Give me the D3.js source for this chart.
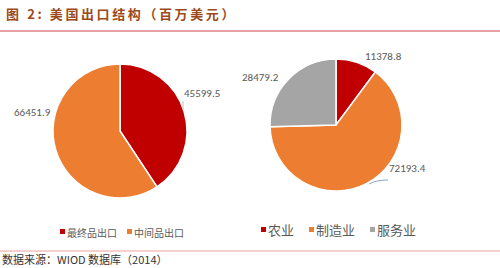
<!DOCTYPE html>
<html><head><meta charset="utf-8">
<script src="https://cdn.jsdelivr.net/npm/d3@7"></script>
<style>
body{margin:0;background:#fff;}
svg{display:block;font-family:"Noto Sans CJK SC","Noto Sans",sans-serif;}
</style></head>
<body><svg id="c" width="500" height="268"></svg>
<script>
const titleText = "图 2: 美国出口结构（百万美元）";
const sourceText = "数据来源：WIOD 数据库（2014）";
const leftCategories = ["最终品出口", "中间品出口"];
const leftValues = [45599.5, 66451.9];
const leftColors = ["#C00000", "#ED7D31"];
const rightCategories = ["农业", "制造业", "服务业"];
const rightValues = [11378.8, 72193.4, 28479.2];
const rightColors = ["#C00000", "#ED7D31", "#A5A5A5"];

const svg = d3.select("#c");
svg.append("text").attr("x", 6).attr("y", 19).attr("font-size", 13).attr("font-weight", "bold")
  .attr("letter-spacing", 2.6).attr("fill", "#9c4a1c").text(titleText);
svg.append("line").attr("x1", 0).attr("x2", 500).attr("y1", 31).attr("y2", 31)
  .attr("stroke", "#e8a0a4").attr("stroke-width", 2);
svg.append("line").attr("x1", 0).attr("x2", 500).attr("y1", 251).attr("y2", 251)
  .attr("stroke", "#eea0a0").attr("stroke-width", 1);
svg.append("text").attr("x", 2).attr("y", 264).attr("font-size", 11)
  .attr("fill", "#333").text(sourceText);

function drawPie(cx, cy, r, values, colors, labelPos) {
  const pie = d3.pie().sort(null).value(d => d)(values);
  const arc = d3.arc().innerRadius(0).outerRadius(r);
  const g = svg.append("g").attr("transform", `translate(${cx},${cy})`);
  g.selectAll("path").data(pie).join("path").attr("d", arc)
    .attr("fill", (d, i) => colors[i]).attr("stroke", "#fff").attr("stroke-width", 1.5);
  pie.forEach((d, i) => {
    const p = labelPos[i];
    svg.append("text").attr("x", p[0]).attr("y", p[1]).attr("font-size", 11)
      .attr("fill", "#595959").attr("font-family", "Calibri, Carlito, 'Liberation Sans', sans-serif")
      .text(d3.format(".1f")(values[i]));
  });
  return g;
}

drawPie(120, 131, 67, leftValues, leftColors, [[184, 97], [14, 116]]);
drawPie(336, 125, 66, rightValues, rightColors, [[365, 60], [389, 172], [242, 81]]);

// leader lines
svg.append("path").attr("d", "M183,101 L183,110").attr("stroke", "#a6b4c2").attr("fill", "none").attr("stroke-width", 0.8);
svg.append("path").attr("d", "M369,184 Q376,180 388,180").attr("stroke", "#8fa6bd").attr("fill", "none").attr("stroke-width", 1);

function legend(items, colors, positions, y, fs) {
  items.forEach((t, i) => {
    svg.append("rect").attr("x", positions[i]).attr("y", y - 4).attr("width", 5).attr("height", 5).attr("fill", colors[i]);
    svg.append("text").attr("x", positions[i] + 7).attr("y", y + 4).attr("font-size", fs)
      .attr("fill", "#595959").text(t);
  });
}
legend(leftCategories, leftColors, [60, 127], 233, 10);
legend(rightCategories, rightColors, [261, 309, 370], 231, 13);
</script></body></html>
